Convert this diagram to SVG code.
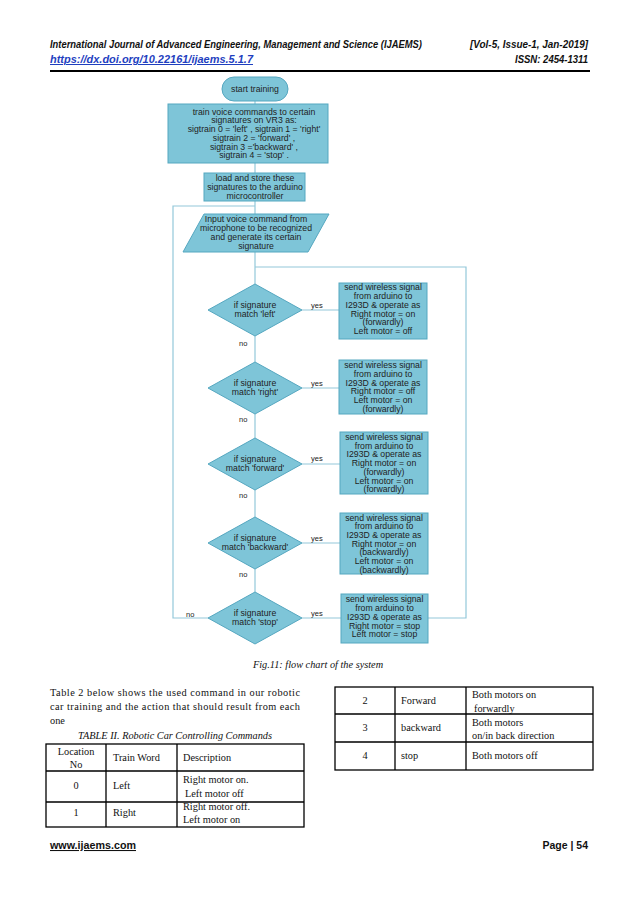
<svg xmlns="http://www.w3.org/2000/svg" width="638" height="902" viewBox="0 0 638 902">
<style>
.hd{font-family:"Liberation Sans",Arial,sans-serif;font-weight:bold;font-style:italic;font-size:10px;fill:#111}
.lnk{fill:#1f3fbf;text-decoration:underline}
.ft{font-family:"Liberation Sans",Arial,sans-serif;font-weight:bold;font-size:10.5px;fill:#111}
.fc{font-family:"Liberation Sans",Arial,sans-serif;font-size:8.7px;fill:#1e1e1e;text-anchor:middle}
.lb{font-family:"Liberation Sans",Arial,sans-serif;font-size:7.5px;fill:#222}
.shape{fill:#7ec5d8;stroke:#55a7c0;stroke-width:1}
.conn{fill:none;stroke:#93c8da;stroke-width:1.2}
.tm{font-family:"Liberation Serif","Times New Roman",serif;font-size:10.3px;fill:#111}
.tmi{font-family:"Liberation Serif","Times New Roman",serif;font-size:10.3px;font-style:italic;fill:#111}
.tb{fill:none;stroke:#000;stroke-width:1.3}
</style>
<rect width="638" height="902" fill="#fff"/>
<g id="header">
<text class="hd" x="50" y="48" textLength="372" lengthAdjust="spacingAndGlyphs">International Journal of Advanced Engineering,  Management  and Science  (IJAEMS)</text>
<text class="hd" x="588" y="48" text-anchor="end" textLength="118" lengthAdjust="spacingAndGlyphs">[Vol-5, Issue-1, Jan-2019]</text>
<text class="hd lnk" x="50" y="63" textLength="203" lengthAdjust="spacingAndGlyphs">https://dx.doi.org/10.22161/ijaems.5.1.7</text>
<text class="hd" x="588" y="63" text-anchor="end" textLength="73" lengthAdjust="spacingAndGlyphs">ISSN: 2454-1311</text>
<line x1="50" y1="71" x2="590" y2="71" stroke="#000" stroke-width="2.2"/>
</g>
<g id="connectors">
<path class="conn" d="M255,101V104 M255,163V173 M255,201V214 M255,252V284 M255,336V362 M255,414V438 M255,490V517 M255,569V592"/>
<path class="conn" d="M208,618H173V206H255"/>
<path class="conn" d="M428,618H466V267H255"/>
<path class="conn" d="M302,310H339 M302,388H339 M302,464H340 M302,543H340 M302,618H341"/>
<text class="lb" x="311" y="308">yes</text>
<text class="lb" x="311" y="386">yes</text>
<text class="lb" x="311" y="461">yes</text>
<text class="lb" x="311" y="541">yes</text>
<text class="lb" x="311" y="616">yes</text>
<text class="lb" x="239" y="346">no</text>
<text class="lb" x="239" y="422">no</text>
<text class="lb" x="239" y="498">no</text>
<text class="lb" x="239" y="577">no</text>
<text class="lb" x="186" y="617">no</text>
</g>
<g id="start">
<rect class="shape" x="222" y="77" width="66" height="24" rx="12"/>
<text class="fc" x="255" y="92">start training</text>
</g>
<g id="train">
<rect class="shape" x="168" y="104" width="160" height="59"/>
<text class="fc" x="254" y="114.5">train voice commands to certain</text>
<text class="fc" x="254" y="123.3">signatures on VR3 as:</text>
<text class="fc" x="254" y="132">sigtrain 0 = 'left' , sigtrain 1 = 'right'</text>
<text class="fc" x="254" y="140.8">sigtrain 2 = 'forward' ,</text>
<text class="fc" x="254" y="149.6">sigtrain 3 ='backward' ,</text>
<text class="fc" x="254" y="158.4">sigtrain 4 = 'stop' .</text>
</g>
<g id="load">
<rect class="shape" x="204" y="173" width="101" height="28"/>
<text class="fc" x="255" y="181">load and store these</text>
<text class="fc" x="255" y="190">signatures to the arduino</text>
<text class="fc" x="255" y="199">microcontroller</text>
</g>
<g id="input">
<polygon class="shape" points="204,214 329,214 308,252 183,252"/>
<text class="fc" x="256" y="222">Input voice command from</text>
<text class="fc" x="256" y="231">microphone to be recognized</text>
<text class="fc" x="256" y="240">and generate its certain</text>
<text class="fc" x="256" y="249">signature</text>
</g>
<g id="d-left">
<polygon class="shape" points="255,284 302,310 255,336 208,310"/>
<text class="fc" x="255" y="308">if signature</text>
<text class="fc" x="255" y="317">match 'left'</text>
</g>
<g id="d-right">
<polygon class="shape" points="255,362 302,388 255,414 208,388"/>
<text class="fc" x="255" y="386">if signature</text>
<text class="fc" x="255" y="395">match 'right'</text>
</g>
<g id="d-forward">
<polygon class="shape" points="255,438 302,464 255,490 208,464"/>
<text class="fc" x="255" y="462">if signature</text>
<text class="fc" x="255" y="471">match 'forward'</text>
</g>
<g id="d-backward">
<polygon class="shape" points="255,517 302,543 255,569 208,543"/>
<text class="fc" x="255" y="541">if signature</text>
<text class="fc" x="255" y="550">match 'backward'</text>
</g>
<g id="d-stop">
<polygon class="shape" points="255,592 302,618 255,644 208,618"/>
<text class="fc" x="255" y="616">if signature</text>
<text class="fc" x="255" y="625">match 'stop'</text>
</g>
<g id="b-left">
<rect class="shape" x="339" y="283" width="88" height="56"/>
<text class="fc" x="383" y="290">send wireless signal</text>
<text class="fc" x="383" y="299">from arduino to</text>
<text class="fc" x="383" y="307.5">I293D &amp; operate as</text>
<text class="fc" x="383" y="316.5">Right motor = on</text>
<text class="fc" x="383" y="325">(forwardly)</text>
<text class="fc" x="383" y="334">Left motor = off</text>
</g>
<g id="b-right">
<rect class="shape" x="339" y="360" width="88" height="54"/>
<text class="fc" x="383" y="368">send wireless signal</text>
<text class="fc" x="383" y="377">from arduino to</text>
<text class="fc" x="383" y="385.5">I293D &amp; operate as</text>
<text class="fc" x="383" y="394">Right motor = off</text>
<text class="fc" x="383" y="403">Left motor = on</text>
<text class="fc" x="383" y="411.5">(forwardly)</text>
</g>
<g id="b-forward">
<rect class="shape" x="340" y="432" width="88" height="62"/>
<text class="fc" x="384" y="440">send wireless signal</text>
<text class="fc" x="384" y="448.7">from arduino to</text>
<text class="fc" x="384" y="457.4">I293D &amp; operate as</text>
<text class="fc" x="384" y="466.1">Right motor = on</text>
<text class="fc" x="384" y="474.8">(forwardly)</text>
<text class="fc" x="384" y="483.5">Left motor = on</text>
<text class="fc" x="384" y="492.2">(forwardly)</text>
</g>
<g id="b-backward">
<rect class="shape" x="340" y="513" width="88" height="61"/>
<text class="fc" x="384" y="520.5">send wireless signal</text>
<text class="fc" x="384" y="529.2">from arduino to</text>
<text class="fc" x="384" y="537.9">I293D &amp; operate as</text>
<text class="fc" x="384" y="546.6">Right motor = on</text>
<text class="fc" x="384" y="555.3">(backwardly)</text>
<text class="fc" x="384" y="564">Left motor = on</text>
<text class="fc" x="384" y="572.7">(backwardly)</text>
</g>
<g id="b-stop">
<rect class="shape" x="341" y="594" width="87" height="49"/>
<text class="fc" x="384.5" y="602">send wireless signal</text>
<text class="fc" x="384.5" y="611">from arduino to</text>
<text class="fc" x="384.5" y="620">I293D &amp; operate as</text>
<text class="fc" x="384.5" y="628.5">Right motor = stop</text>
<text class="fc" x="384.5" y="637">Left motor = stop</text>
</g>
<g id="caption">
<text class="tmi" x="318" y="668" text-anchor="middle">Fig.11: flow chart of the system</text>
</g>
<g id="paragraph">
<text class="tm" x="50" y="696" textLength="250" lengthAdjust="spacing">Table 2 below shows the used command in our robotic</text>
<text class="tm" x="50" y="710" textLength="250" lengthAdjust="spacing">car training and the action that should result from each</text>
<text class="tm" x="50" y="724">one</text>
<text class="tmi" x="175" y="739" text-anchor="middle" font-size="9.8">TABLE II. Robotic Car Controlling Commands</text>
</g>
<g id="table-left">
<rect class="tb" x="46" y="744" width="258" height="83"/>
<path class="tb" d="M46,771H304 M46,802H304 M106,744V827 M177,744V827"/>
<text class="tm" x="76" y="755" text-anchor="middle">Location</text>
<text class="tm" x="76" y="768" text-anchor="middle">No</text>
<text class="tm" x="113" y="761">Train Word</text>
<text class="tm" x="183" y="761">Description</text>
<text class="tm" x="76" y="789" text-anchor="middle">0</text>
<text class="tm" x="113" y="789">Left</text>
<text class="tm" x="183" y="783">Right motor on.</text>
<text class="tm" x="185" y="797">Left motor off</text>
<text class="tm" x="76" y="816" text-anchor="middle">1</text>
<text class="tm" x="113" y="816">Right</text>
<text class="tm" x="183" y="810">Right motor off.</text>
<text class="tm" x="183" y="823">Left motor on</text>
</g>
<g id="table-right">
<rect class="tb" x="335" y="687" width="258" height="83"/>
<path class="tb" d="M335,714H593 M335,742H593 M395,687V770 M466,687V770"/>
<text class="tm" x="365" y="704" text-anchor="middle">2</text>
<text class="tm" x="401" y="704">Forward</text>
<text class="tm" x="472" y="698">Both motors on</text>
<text class="tm" x="474" y="712">forwardly</text>
<text class="tm" x="365" y="731" text-anchor="middle">3</text>
<text class="tm" x="401" y="731">backward</text>
<text class="tm" x="472" y="726">Both motors</text>
<text class="tm" x="472" y="739">on/in back direction</text>
<text class="tm" x="365" y="759" text-anchor="middle">4</text>
<text class="tm" x="401" y="759">stop</text>
<text class="tm" x="472" y="759">Both motors off</text>
</g>
<g id="footer">
<text class="ft lnk" x="50" y="849" textLength="86" lengthAdjust="spacingAndGlyphs">www.ijaems.com</text>
<text class="ft" x="588" y="849" text-anchor="end">Page | 54</text>
</g>
</svg>
